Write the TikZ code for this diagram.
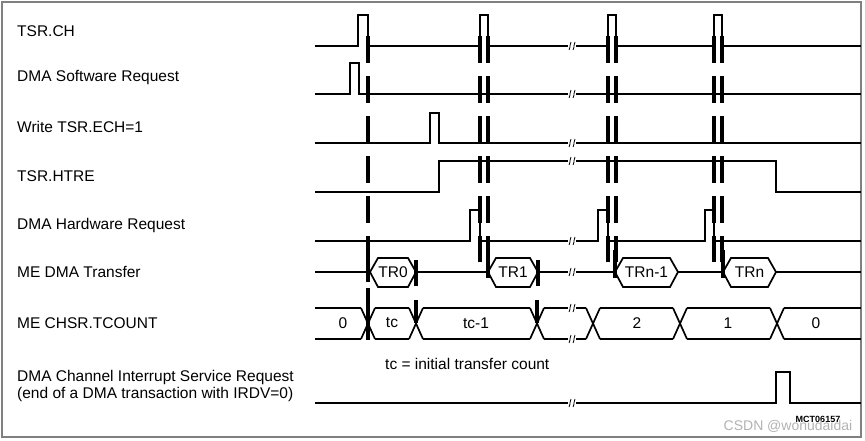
\documentclass[tikz,border=0pt]{standalone}
\usepackage{fontspec}
\setmainfont{Liberation Sans}
\begin{document}
\begin{tikzpicture}[x=1pt,y=-1pt,
  sig/.style={line width=1.7pt,line join=miter},
  mk/.style={line width=3.2pt,dash pattern=on 27pt off 13pt},
  tick/.style={line width=3.2pt},
  lbl/.style={anchor=west,font=\fontsize{15.5}{18}\selectfont,inner sep=0pt},
  val/.style={font=\fontsize{15.5}{18}\selectfont,inner sep=0pt}]
\useasboundingbox (0,0) rectangle (865,441);
\draw[gray,line width=1.2pt] (2,2) rectangle (861,437);
% labels
\node[lbl] (l1) at (17,31) {TSR.CH};
\node[lbl] (l2) at (17,78) {DMA Software Request};
\node[lbl] (l3) at (17,127) {Write TSR.ECH=1};
\node[lbl] (l4) at (17,176) {TSR.HTRE};
\node[lbl] (l5) at (17,225) {DMA Hardware Request};
\node[lbl] (l6) at (17,272) {ME DMA Transfer};
\node[lbl] (l7) at (17,323) {ME CHSR.TCOUNT};
\node[lbl] (l8) at (17,377) {DMA Channel Interrupt Service Request};
\node[lbl] (l9) at (17,394) {(end of a DMA transaction with IRDV=0)};
% waveforms
\draw[sig] (315,46) -- (358,46) -- (358,15) -- (368,15) -- (368,46) -- (480,46) -- (480,15) -- (488,15) -- (488,46) -- (608,46) -- (608,15) -- (616,15) -- (616,46) -- (714,46) -- (714,15) -- (722,15) -- (722,46) -- (861,46);
\draw[sig] (315,94) -- (350,94) -- (350,63) -- (359,63) -- (359,94) -- (861,94);
\draw[sig] (315,143) -- (430,143) -- (430,113) -- (439,113) -- (439,143) -- (861,143);
\draw[sig] (315,192) -- (439,192) -- (439,161) -- (776,161) -- (776,192) -- (861,192);
\draw[sig] (315,241) -- (470,241) -- (470,210) -- (480,210) -- (480,241) -- (598,241) -- (598,210) -- (608,210) -- (608,241) -- (705,241) -- (705,210) -- (714,210) -- (714,241) -- (861,241);
\draw[sig] (315,403) -- (776,403) -- (776,372) -- (790,372) -- (790,403) -- (861,403);
% transfers
\draw[sig] (315,272) -- (861,272);
\foreach \a/\b/\t/\n in {370/416/TR0/t0,488/538/TR1/t1,615/678/TRn-1/t2,723/776/TRn/t3}{
  \draw[sig,fill=white] (\a,272) -- (\a+8,258) -- (\b-8,258) -- (\b,272) -- (\b-8,287) -- (\a+8,287) -- cycle;
  \node[val] (\n) at ({(\a+\b)/2},272) {\t};
}
% bus
\foreach \a/\b in {315/361,375/409,423/530,544/586,600/673,687/770,784/861}{
  \draw[sig] (\a,308) -- (\b,308); \draw[sig] (\a,339) -- (\b,339);}
\foreach \c in {368,416,537,593,680,777}{
  \draw[sig] (\c-7,308) -- (\c+7,339); \draw[sig] (\c-7,339) -- (\c+7,308);}
\node[val] (v0) at (343,323) {0};
\node[val] (v1) at (392,323) {tc};
\node[val] (v2) at (476,323) {tc-1};
\node[val] (v3) at (637,323) {2};
\node[val] (v4) at (728,323) {1};
\node[val] (v5) at (816,323) {0};
\node[val,anchor=west] (note) at (385,364) {tc = initial transfer count};
% break marks
\foreach \y in {46,94,143,161,241,272,308,339,403}{
  \fill[white] (568,\y-4) rectangle (576,\y+4);
  \draw[line width=0.8pt] (569,\y+4) .. controls (571,\y) and (569,\y-1) .. (571,\y-4);
  \draw[line width=0.8pt] (573,\y+4) .. controls (575,\y) and (573,\y-1) .. (575,\y-4);}
% markers
\draw[mk] (368,36) -- (368,262);
\foreach \x in {480,488,608,616,714,722}{\draw[mk] (\x,36) -- (\x,262);}
\draw[tick] (368,250) -- (368,282);
\draw[tick] (416,260) -- (416,286);
\draw[tick] (488,250) -- (488,278);
\draw[tick] (538,260) -- (538,286);
\draw[tick] (615,250) -- (615,278);
\draw[tick] (723,250) -- (723,278);
\draw[tick] (368,288) -- (368,340);
\draw[tick] (416,300) -- (416,323);
\draw[tick] (537,300) -- (537,323);
\node[font=\fontsize{9}{10}\selectfont\bfseries,inner sep=0pt] (mct) at (818,419) {MCT06157};
\node[font=\fontsize{14}{16}\selectfont,text=gray!60,inner sep=0pt] (wm) at (788,426) {CSDN @wonudaidai};
\end{tikzpicture}
\end{document}
